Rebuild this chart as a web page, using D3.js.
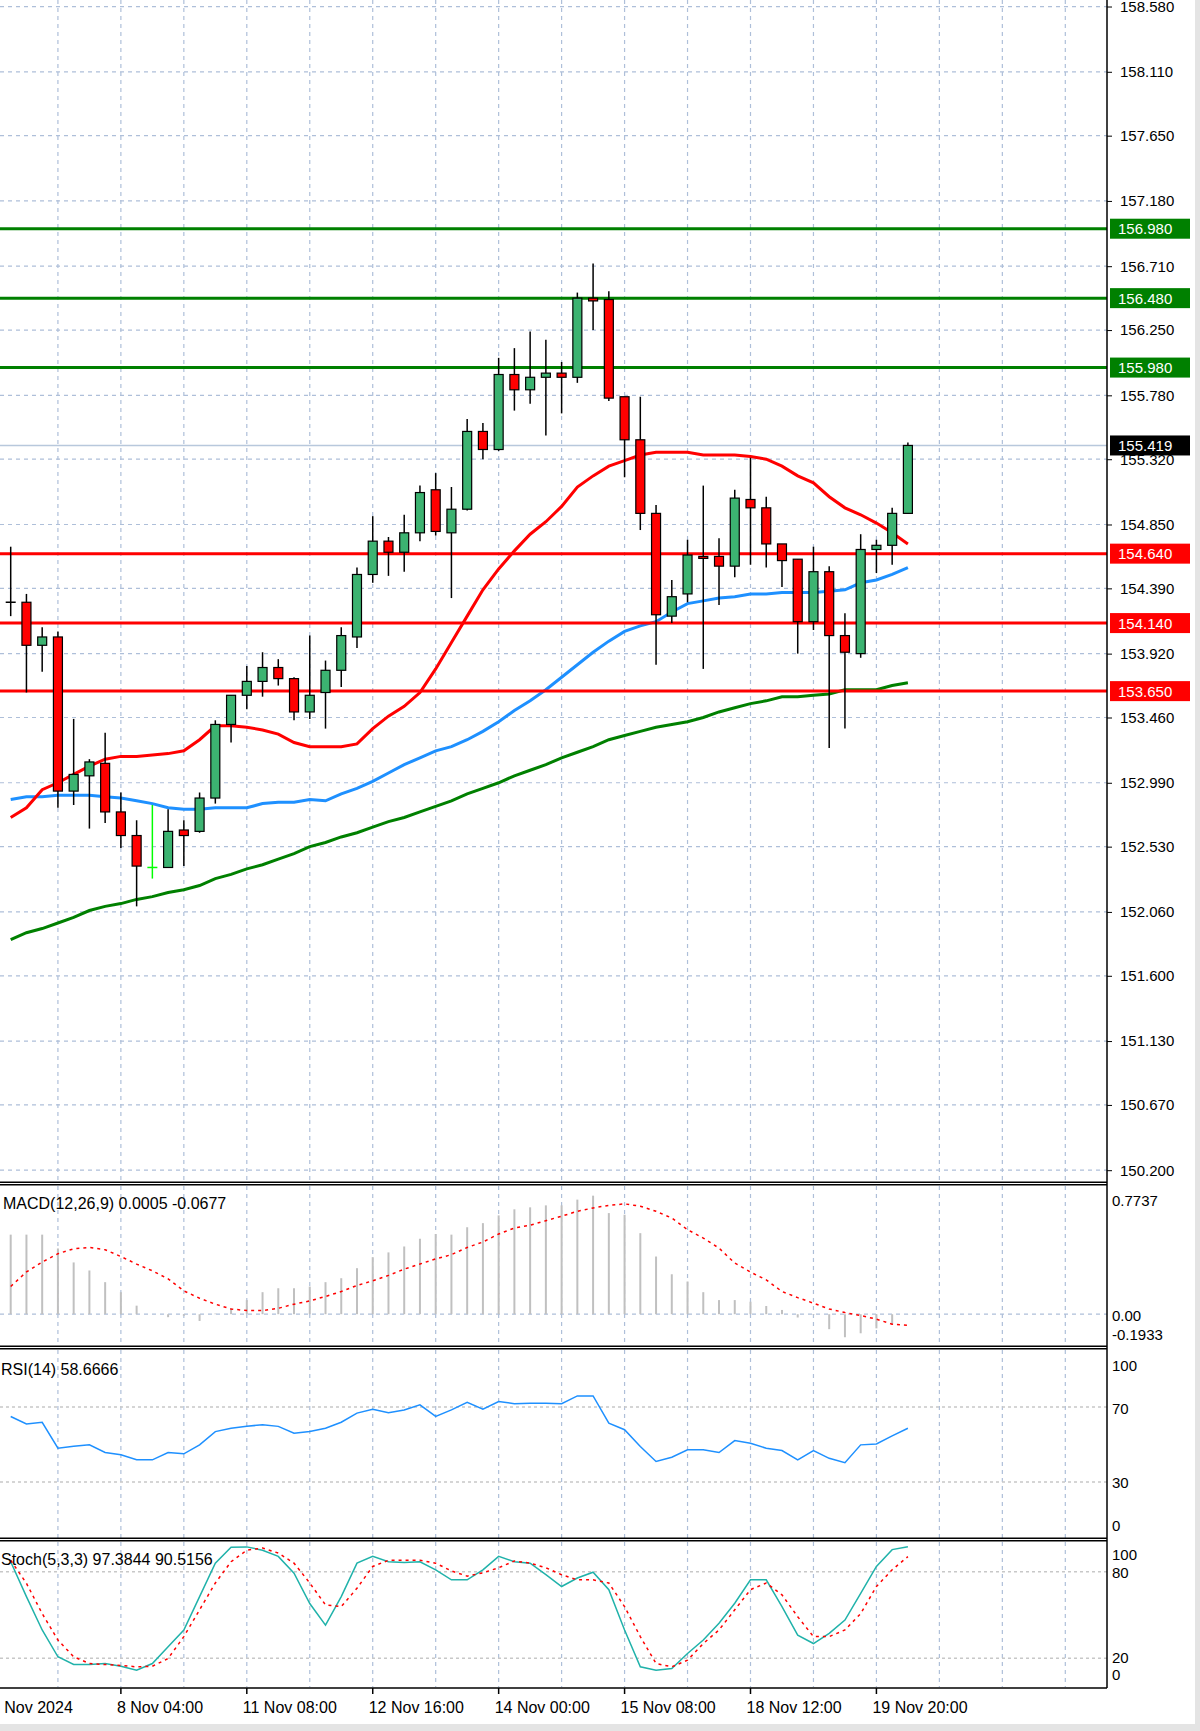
<!DOCTYPE html>
<html>
<head>
<meta charset="utf-8">
<script src="https://cdn.jsdelivr.net/npm/d3@7"></script>
<style>
  body { margin: 0; background: #fff; }
  text { font-family: "Liberation Sans", Arial, sans-serif; }
</style>
</head>
<body>
<svg id="chart" width="1200" height="1731"></svg>
<script>
// candle data (H4 USDJPY-like)
const opens  = [154.29,154.29,153.98,154.04,152.93,153.04,153.13,152.78,152.61,152.38,152.38,152.65,152.64,152.88,153.41,153.62,153.72,153.82,153.74,153.50,153.64,153.80,154.04,154.49,154.73,154.65,154.79,155.10,154.79,154.96,155.52,155.39,155.93,155.82,155.91,155.94,155.91,156.48,156.47,155.77,155.46,154.93,154.19,154.35,154.62,154.62,154.55,155.03,154.97,154.71,154.60,154.15,154.51,154.05,153.92,154.67,154.70,154.93];
const highs  = [154.69,154.35,154.11,154.08,153.45,153.16,153.35,152.92,152.72,152.83,152.80,152.72,152.92,153.44,153.62,153.83,153.93,153.88,153.75,154.05,153.87,154.11,154.54,154.91,154.76,154.92,155.13,155.22,155.12,155.61,155.58,156.05,156.12,156.24,156.18,156.02,156.52,156.73,156.53,155.77,155.77,154.99,154.45,154.74,155.13,154.75,155.10,155.33,155.05,154.71,154.60,154.69,154.55,154.21,154.78,154.74,154.97,155.44];
const lows   = [154.19,153.64,153.79,152.81,152.83,152.66,152.70,152.52,152.10,152.30,152.38,152.39,152.63,152.84,153.28,153.52,153.61,153.69,153.44,153.45,153.38,153.68,153.96,154.43,154.48,154.51,154.73,154.77,154.32,154.95,155.32,155.38,155.67,155.72,155.49,155.65,155.87,156.25,155.74,155.19,154.81,153.84,154.14,154.29,153.81,154.27,154.47,154.56,154.54,154.40,153.92,154.09,153.24,153.38,153.89,154.50,154.56,154.93];
const closes = [154.29,153.98,154.04,152.93,153.05,153.14,152.78,152.61,152.39,152.38,152.64,152.61,152.88,153.41,153.62,153.72,153.82,153.74,153.50,153.62,153.80,154.05,154.49,154.73,154.65,154.79,155.08,154.80,154.96,155.52,155.39,155.93,155.82,155.91,155.94,155.91,156.48,156.46,155.76,155.46,154.93,154.20,154.33,154.63,154.61,154.55,155.04,154.97,154.71,154.59,154.15,154.51,154.05,153.93,154.67,154.70,154.93,155.419];
const limeDoji = 9;

// moving averages
const maFast = [152.74,152.81,152.94,152.99,153.05,153.11,153.16,153.18,153.18,153.19,153.20,153.22,153.30,153.40,153.40,153.39,153.37,153.34,153.28,153.25,153.25,153.25,153.27,153.38,153.47,153.54,153.64,153.81,154.00,154.19,154.38,154.53,154.66,154.78,154.87,154.98,155.12,155.20,155.27,155.31,155.35,155.37,155.37,155.37,155.35,155.35,155.35,155.34,155.32,155.27,155.20,155.15,155.05,154.97,154.92,154.86,154.79,154.71];
const maMid  = [152.87,152.89,152.89,152.90,152.90,152.90,152.89,152.88,152.86,152.84,152.81,152.80,152.80,152.81,152.81,152.81,152.84,152.85,152.85,152.87,152.86,152.91,152.95,153.00,153.06,153.12,153.17,153.22,153.25,153.30,153.36,153.43,153.51,153.58,153.66,153.75,153.84,153.93,154.01,154.08,154.12,154.15,154.22,154.28,154.30,154.32,154.33,154.35,154.35,154.36,154.36,154.36,154.37,154.38,154.43,154.45,154.49,154.54];
const maSlow = [151.86,151.91,151.94,151.98,152.02,152.07,152.10,152.12,152.15,152.17,152.20,152.22,152.25,152.30,152.33,152.37,152.40,152.44,152.48,152.53,152.56,152.60,152.63,152.67,152.71,152.74,152.78,152.82,152.86,152.91,152.95,152.99,153.04,153.08,153.12,153.17,153.21,153.25,153.30,153.33,153.36,153.39,153.41,153.43,153.46,153.50,153.53,153.56,153.58,153.61,153.61,153.62,153.63,153.66,153.66,153.66,153.69,153.71];

const resistLevels = [156.98, 156.48, 155.98];
const supportLevels = [154.64, 154.14, 153.65];
const lastPrice = 155.419;
const priceTicks = [158.58,158.11,157.65,157.18,156.71,156.25,155.78,155.32,154.85,154.39,153.92,153.46,152.99,152.53,152.06,151.60,151.13,150.67,150.20];

// oscillators
const macdHist = [0.484,0.484,0.484,0.40,0.315,0.266,0.195,0.134,0.052,0.0,-0.018,-0.01,-0.041,0.004,0.036,0.086,0.134,0.158,0.158,0.168,0.195,0.219,0.28,0.347,0.376,0.412,0.459,0.488,0.484,0.529,0.554,0.601,0.638,0.650,0.662,0.662,0.697,0.721,0.615,0.605,0.493,0.351,0.243,0.199,0.134,0.086,0.086,0.076,0.05,0.026,-0.02,-0.004,-0.091,-0.14,-0.116,-0.086,-0.065,0.0005];
const macdSignal = [0.169,0.257,0.317,0.368,0.398,0.406,0.392,0.351,0.305,0.264,0.215,0.142,0.097,0.061,0.032,0.022,0.022,0.036,0.061,0.081,0.108,0.138,0.175,0.203,0.236,0.274,0.305,0.337,0.362,0.406,0.439,0.488,0.524,0.541,0.569,0.596,0.626,0.646,0.662,0.671,0.657,0.626,0.585,0.514,0.463,0.402,0.311,0.256,0.209,0.138,0.101,0.067,0.032,0.01,-0.008,-0.03,-0.061,-0.0677];
const rsi = [65.0,61.0,61.9,48.0,49.0,49.8,45.7,44.5,41.8,41.8,45.7,45.0,49.8,56.9,58.7,59.7,60.6,59.7,56.0,56.9,58.7,61.9,66.8,68.9,67.0,68.5,71.2,65.0,68.5,72.5,68.9,73.0,71.8,72.1,72.1,71.8,76.0,76.0,61.4,57.9,48.9,40.9,43.2,47.2,47.2,45.7,52.1,50.7,48.0,46.8,41.8,46.8,42.6,40.3,49.8,50.3,54.6,58.67];
const stochK = [87,62.8,39.6,21,15.6,15.6,16.3,14.4,11.7,16.3,28,39.6,62.8,86,97,97.3,95,90.7,79,58,43,62.8,86,90.7,87,86.5,87,81.4,74.4,74.4,81.4,90.7,87,86,78,69.8,75.7,79.7,67.6,39.6,14,11.7,12.9,23.3,32.6,44.3,58.2,74.4,74.4,55.8,36,30.2,37.2,46.5,65,83.7,95.4,97.38];
const stochD = [88,72,51,32.6,21,16.3,15.6,15,14,14.4,19.8,35,53.6,72.2,87,95,96.5,93,86,72.2,57,55.8,68.6,83.7,88,88,88,86,80.6,77,79.3,82.8,87.5,86,82.8,78,74.4,74.4,72.2,55.8,35,16.3,14,18.6,30.2,39.6,53.6,67.6,72.2,64,48.8,35,35,39.6,51,69.8,81.4,90.52];

const timeLabels = ["6 Nov 2024","8 Nov 04:00","11 Nov 08:00","12 Nov 16:00","14 Nov 00:00","15 Nov 08:00","18 Nov 12:00","19 Nov 20:00"];
const timeLabelIdx = [-1,7,15,23,31,39,47,55];

const svg = d3.select("#chart");
const W = 1200, plotRight = 1107;
const panels = {
  main: [0, 1182], macd: [1186, 1346], rsi: [1350, 1538], stoch: [1542, 1687]
};
const gridCol = "#aebfd9";

const x = d3.scaleLinear().domain([0, 57]).range([10.7, 907.9]);
const yP = d3.scaleLinear().domain([150.115, 158.627]).range([1182, 0]);
const yM = d3.scaleLinear().domain([-0.1933, 0.7737]).range([1346, 1187]);
const yR = d3.scaleLinear().domain([0, 100]).range([1538, 1351]);
const yS = d3.scaleLinear().domain([0, 100]).range([1687, 1543]);

svg.append("rect").attr("width", W).attr("height", 1731).attr("fill", "#fff");
svg.append("rect").attr("x", 1195).attr("width", 5).attr("height", 1731).attr("fill", "#e4e4e4");
svg.append("rect").attr("y", 1724).attr("width", W).attr("height", 7).attr("fill", "#e4e4e4");

const idx = d3.range(opens.length);

// vertical grid every 4 bars
const gridIdx = d3.range(-1, 17).map(k => 3 + 4 * k);
Object.values(panels).forEach(([t, b]) => {
  svg.append("g").selectAll("line").data(gridIdx).join("line")
    .attr("x1", d => x(d)).attr("x2", d => x(d)).attr("y1", t).attr("y2", b)
    .attr("stroke", gridCol).attr("stroke-dasharray", "4,4").attr("stroke-width", 1.2);
});

// horizontal price grid
svg.append("g").selectAll("line").data(priceTicks).join("line")
  .attr("x1", 0).attr("x2", plotRight).attr("y1", d => yP(d)).attr("y2", d => yP(d))
  .attr("stroke", gridCol).attr("stroke-dasharray", "4,4").attr("stroke-width", 1.2);

// current price line
svg.append("line").attr("x1", 0).attr("x2", plotRight)
  .attr("y1", yP(lastPrice)).attr("y2", yP(lastPrice)).attr("stroke", "#b8c8dc").attr("stroke-width", 1.5);

// moving averages
const maLine = d3.line().x((d, i) => x(i)).y(d => yP(d));
[[maSlow, "#008000"], [maMid, "#1e90ff"], [maFast, "#ff0000"]].forEach(([arr, c]) => {
  svg.append("path").datum(arr).attr("d", maLine).attr("fill", "none")
    .attr("stroke", c).attr("stroke-width", 3);
});

// levels
resistLevels.forEach(v => svg.append("line").attr("x1", 0).attr("x2", plotRight)
  .attr("y1", yP(v)).attr("y2", yP(v)).attr("stroke", "#008000").attr("stroke-width", 3));
supportLevels.forEach(v => svg.append("line").attr("x1", 0).attr("x2", plotRight)
  .attr("y1", yP(v)).attr("y2", yP(v)).attr("stroke", "#ff0000").attr("stroke-width", 3));

// candles
const cg = svg.append("g");
cg.selectAll("line.wick").data(idx).join("line")
  .attr("x1", i => x(i)).attr("x2", i => x(i))
  .attr("y1", i => yP(highs[i])).attr("y2", i => yP(lows[i]))
  .attr("stroke", i => i === limeDoji ? "#00ff00" : "#000").attr("stroke-width", 1.5);
cg.selectAll("rect").data(idx.filter(i => opens[i] !== closes[i])).join("rect")
  .attr("x", i => x(i) - 4.5).attr("width", 9)
  .attr("y", i => yP(Math.max(opens[i], closes[i])))
  .attr("height", i => Math.max(2, Math.abs(yP(opens[i]) - yP(closes[i]))))
  .attr("fill", i => closes[i] > opens[i] ? "#3cb371" : "#ff0000")
  .attr("stroke", "#000").attr("stroke-width", 1.2);
cg.selectAll("line.doji").data(idx.filter(i => opens[i] === closes[i])).join("line")
  .attr("x1", i => x(i) - 5).attr("x2", i => x(i) + 5)
  .attr("y1", i => yP(opens[i])).attr("y2", i => yP(opens[i]))
  .attr("stroke", i => i === limeDoji ? "#00ff00" : "#000").attr("stroke-width", 1.5);

// MACD
svg.append("line").attr("x1", 0).attr("x2", plotRight).attr("y1", yM(0)).attr("y2", yM(0))
  .attr("stroke", gridCol).attr("stroke-dasharray", "4,4").attr("stroke-width", 1.2);
svg.append("g").selectAll("line").data(idx).join("line")
  .attr("x1", i => x(i)).attr("x2", i => x(i))
  .attr("y1", yM(0)).attr("y2", i => yM(macdHist[i]))
  .attr("stroke", "#c0c0c0").attr("stroke-width", 2);
svg.append("path").datum(macdSignal)
  .attr("d", d3.line().x((d, i) => x(i)).y(d => yM(d)))
  .attr("fill", "none").attr("stroke", "#ff0000").attr("stroke-width", 1.5).attr("stroke-dasharray", "3,4");

// RSI
[70, 30].forEach(v => svg.append("line").attr("x1", 0).attr("x2", plotRight)
  .attr("y1", yR(v)).attr("y2", yR(v)).attr("stroke", "#c8c8c8").attr("stroke-dasharray", "3,3").attr("stroke-width", 1.5));
svg.append("path").datum(rsi)
  .attr("d", d3.line().x((d, i) => x(i)).y(d => yR(d)))
  .attr("fill", "none").attr("stroke", "#1e90ff").attr("stroke-width", 1.5);

// Stochastic
[80, 20].forEach(v => svg.append("line").attr("x1", 0).attr("x2", plotRight)
  .attr("y1", yS(v)).attr("y2", yS(v)).attr("stroke", "#c8c8c8").attr("stroke-dasharray", "3,3").attr("stroke-width", 1.5));
svg.append("path").datum(stochK)
  .attr("d", d3.line().x((d, i) => x(i)).y(d => yS(d)))
  .attr("fill", "none").attr("stroke", "#20b2aa").attr("stroke-width", 1.5);
svg.append("path").datum(stochD)
  .attr("d", d3.line().x((d, i) => x(i)).y(d => yS(d)))
  .attr("fill", "none").attr("stroke", "#ff0000").attr("stroke-width", 1.5).attr("stroke-dasharray", "3,4");

// panel separators
[1183, 1347, 1539].forEach(y => {
  svg.append("rect").attr("x", 0).attr("y", y - 1.5).attr("width", plotRight).attr("height", 4).attr("fill", "#000");
  svg.append("line").attr("x1", 0).attr("x2", plotRight).attr("y1", y + 0.5).attr("y2", y + 0.5).attr("stroke", "#fff").attr("stroke-width", 1);
});
svg.append("line").attr("x1", 0).attr("x2", plotRight).attr("y1", 1688).attr("y2", 1688).attr("stroke", "#000").attr("stroke-width", 1.5);
svg.append("line").attr("x1", plotRight).attr("x2", plotRight).attr("y1", 0).attr("y2", 1688).attr("stroke", "#000").attr("stroke-width", 1.5);

// price axis
const axisG = svg.append("g").attr("transform", `translate(${plotRight},0)`);
axisG.call(d3.axisRight(yP).tickValues(priceTicks).tickFormat(d3.format(".3f")).tickSize(5).tickPadding(8))
  .call(g => g.select(".domain").remove())
  .call(g => g.selectAll("text").attr("font-size", 15).attr("fill", "#000").attr("font-family", "Liberation Sans, Arial"));

function tag(v, bg) {
  const y = yP(v);
  svg.append("rect").attr("x", plotRight + 3).attr("y", y - 10).attr("width", 80).attr("height", 20).attr("fill", bg);
  svg.append("text").attr("x", plotRight + 11).attr("y", y + 5.5).attr("font-size", 15).attr("fill", "#fff").text(v.toFixed(3));
}
resistLevels.forEach(v => tag(v, "#008000"));
supportLevels.forEach(v => tag(v, "#ff0000"));
tag(lastPrice, "#000");

// sub-panel axis labels
function sideLabel(txt, y) {
  svg.append("text").attr("x", plotRight + 5).attr("y", y).attr("font-size", 15).attr("fill", "#000").text(txt);
}
sideLabel("0.7737", 1206); sideLabel("0.00", 1321); sideLabel("-0.1933", 1340);
sideLabel("100", 1371); sideLabel("70", 1414); sideLabel("30", 1488); sideLabel("0", 1531);
sideLabel("100", 1560); sideLabel("80", 1578); sideLabel("20", 1663); sideLabel("0", 1680);

// panel titles
svg.append("text").attr("x", 3).attr("y", 1209).attr("font-size", 16).text("MACD(12,26,9) 0.0005 -0.0677");
svg.append("text").attr("x", 1).attr("y", 1375).attr("font-size", 16).text("RSI(14) 58.6666");
svg.append("text").attr("x", 1).attr("y", 1565).attr("font-size", 16).text("Stoch(5,3,3) 97.3844 90.5156");

// time axis
const tg = svg.append("g");
tg.selectAll("line").data(timeLabelIdx).join("line")
  .attr("x1", d => x(d)).attr("x2", d => x(d)).attr("y1", 1688).attr("y2", 1694)
  .attr("stroke", "#000").attr("stroke-width", 1.5);
tg.selectAll("text").data(timeLabels).join("text")
  .attr("x", (d, i) => x(timeLabelIdx[i]) - 4).attr("y", 1713).attr("font-size", 16).text(d => d);
</script>
</body>
</html>
